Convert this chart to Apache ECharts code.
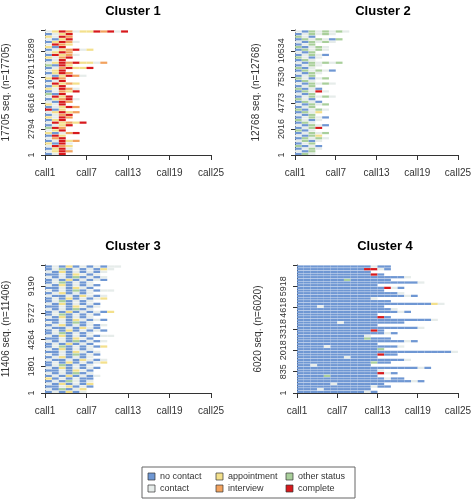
<!DOCTYPE html><html><head><meta charset="utf-8">
<script src="https://cdn.jsdelivr.net/npm/echarts@6/dist/echarts.min.js"></script>
<style>html,body{margin:0;background:#fff}#c{width:474px;height:500px}</style></head><body><div id="c"></div>
<script>
const stateNames=["no contact","contact","appointment","interview","other status","complete"];
const stateCodes=["N","C","A","I","O","X"];
const stateColors=["#6F97D3","#E6ECEA","#F3E08C","#F2A25E","#A9CF9B","#D7191C"];
const titles=["Cluster 1","Cluster 2","Cluster 3","Cluster 4"];
const yNames=["17705 seq. (n=17705)","12768 seq. (n=12768)","11406 seq. (n=11406)","6020 seq. (n=6020)"];
const yTicks=[["1","2794","6616","10781","15289"],["1","2016","4773","7530","10534"],["1","1801","4264","5727","9190"],["1","835","2018","3318","4618","5918"]];
const xTicks=["call1","call7","call13","call19","call25"];
// sequences, bottom row first
const seq1=["NCX","CAXI","NAXC","CXIA","ANXC","NCXAI","CIX","NXA","ANCIX","CAX","OXI","NCAX","CXAIAX","NAX","ACXI","NCIX","CAXAI","XNA","NCAXI","ACX","CNXI","NAIXC","CXAX","ONX","NCIAX","ACXIC","NAX","CXAIA","NCX","AXI","CNAXIC","NAXI","CAX","NCIXAAX","ONXA","CAXIXAACI","NCX","ACIX","NXAIC","CAXI","NCAIXCA","ANX","CXIA","NAXIC","CNAX","ACXI","NCAX","CAXICAAXIXCX"];
const seq2=["NOC","CNO","NCOC","ONCN","NCO","CONC","NOCOC","CNOA","NCOCO","ONC","NCOX","CNOCN","NOC","OCNC","NCOCN","CNO","NOCA","ONCOC","NCO","CNOCO","NOCN","OCN","NCOCOC","CNO","NOCXC","ONCN","NCO","CNOCOC","NOC","OCNCO","NCO","CNOC","NOCOCN","ONC","NCOC","CNOCOCO","NOC","OCNC","NCOCN","CNO","NOCOC","ONCOC","NCO","CNOCOC","NOCOCNO","OCN","NCOCOC","CNOCOCOC"];
const seq3=["NCNANC","CNONCA","NNCANCN","CNANCNA","NCNOCNC","ANCNCNN","NCNANCNC","CNCNONC","NNCNACN","CNANCNCN","NCONCNC","NCNANCNCA","CNNCNACNC","NCANCNC","CNCNONCN","NNCNACNC","CNANCNC","NCONCNCNA","NCNANCN","CNCNONCNC","NNCNACN","CNANCNCNCC","NCONCNC","NCNANCNCN","CNNCNACN","NCANCNCNC","CNCNONC","NNCNACNCN","CNANCNC","NCONCNCN","NCNANCNCNA","CNCNONC","NNCNACNC","CNANCNCN","NCONCNC","NCNANCNCA","CNNCNACNC","NCANCNC","CNCNONCNCC","NNCNACN","CNANCNCN","NCONCNC","NCNANCNCN","CNCNONCNC","NNCNACNC","CNANCNCNC","NCONCNCNAC","NCNANCNCNCC"];
const seq4=["NNNNNNNNNNCN","NNNCNNNNNNN","NNNNNNNNNNNCNN","NNNNNCNNNNNNN","NNNNNNNNNNNNNNNNNCN","NNNNNNNNNNNNNCNN","NNNNONNNNNNN","NNNNNNNNNNNNXCN","NNNNNNNNNNNNC","NNNNNNNNNNNNNNNNNNCN","NNCNNNNNNNN","NNNNNNNNNNNONN","NNNNNNNNNNNNNNNNC","NNNNNNNCNNNN","NNNNNNNNNNNNXNN","NNNNNNNNNNNNNNNNNNNNNNNC","NNNNNNNNNNNNO","NNNNCNNNNNNNNNNC","NNNNNNNNNNNN","NNNNNNNNNNNNNNNNCN","NNNNNNNNNNONNN","NNNNNNNNNNC","NNNNNNNNNNNNNCN","NNNNNNNNNNNXN","NNNNNNNNNNNNNNNNNNC","NNNNNNNNNNNN","NNNNNNCNNNNNNNNN","NNNNNNNNNNNNNNNNNNNNC","NNNNNNNNNNNNXN","NNNNNNNNNNNN","NNNNNNNNNNNNNNNCN","NNNNNNNNNNNNNNC","NNNCNNNNNNNNN","NNNNNNNNNNNNNNNNNNNNAC","NNNNNNNNNNNNNN","NNNNNNNNNNNC","NNNNNNNNNNNNNNNNCN","NNNNNNNNNNNNNNNC","NNNNNNNNNNNNN","NNNNNNNNNNNNNXCN","NNNNNNNNNNNN","NNNNNNNNNNNNNNNNNNC","NNNNNNNONNNNNN","NNNNNNNNNNNNNNNNC","NNNNNNNNNNNXN","NNNNNNNNNNN","NNNNNNNNNNXXCN","NNNNNNNNNNNCNN"];
const seqs=[seq1,seq2,seq3,seq4];
const R=48;
const grids=[{left:45,top:30,width:166,height:125},{left:295,top:30,width:166,height:125},{left:45,top:265,width:166,height:128},{left:297,top:265,width:166,height:128}];
const option={animation:false,grid:grids,title:[],xAxis:[],yAxis:[],series:[],graphic:[]};
seqs.forEach((s,g)=>{
  const gr=grids[g];
  option.title.push({text:titles[g],left:gr.left+gr.width/2,top:g<2?0:235,textAlign:'center',textStyle:{fontSize:13,fontWeight:'bold',color:'#000',fontFamily:'Liberation Sans'}});
  option.xAxis.push({gridIndex:g,type:'value',min:0,max:24,interval:6,offset:5,axisLine:{show:true,lineStyle:{color:'#333'}},axisTick:{show:true,length:5,lineStyle:{color:'#333'}},splitLine:{show:false},axisLabel:{color:'#333',fontSize:10,fontFamily:'Liberation Sans',formatter:v=>xTicks[v/6],margin:8}});
  const tk=yTicks[g];const step=g==3?8:10;
  option.yAxis.push({gridIndex:g,type:'value',min:0,max:R,interval:step,offset:4,name:yNames[g],nameLocation:'middle',nameGap:30,nameTextStyle:{fontSize:10,color:'#333',fontFamily:'Liberation Sans'},axisLine:{show:true,lineStyle:{color:'#333'}},axisTick:{show:true,length:4,lineStyle:{color:'#333'}},splitLine:{show:false},axisLabel:{rotate:90,fontSize:9,color:'#333',fontFamily:'Liberation Sans',hideOverlap:false,formatter:v=>{const i=Math.round(v/step);return i<tk.length?tk[i]:'';},margin:5}});
  const data=[];
  s.forEach((str,r)=>{for(let k=0;k<str.length;k++)data.push([k,r,stateCodes.indexOf(str[k])]);});
  option.series.push({type:'custom',xAxisIndex:g,yAxisIndex:g,data,encode:{x:0,y:1},renderItem:(p,api)=>{
    const k=api.value(0),r=api.value(1),st=api.value(2);
    const a=api.coord([k,r+0.85]),b=api.coord([k+1,r]);
    return {type:'rect',shape:{x:a[0],y:a[1],width:b[0]-a[0],height:b[1]-a[1]},style:{fill:stateColors[st]}};
  }});
});
// legend
const lx=142,ly=467;
option.graphic.push({type:'rect',shape:{x:lx,y:ly,width:213,height:31},style:{fill:'#fff',stroke:'#666',lineWidth:1}});
const colX=[lx+6,lx+74,lx+144];
const order=[[0,2,4],[1,3,5]];
order.forEach((row,ri)=>row.forEach((si,ci)=>{
  const y=ly+6+ri*12;
  option.graphic.push({type:'rect',shape:{x:colX[ci],y:y,width:7,height:7},style:{fill:stateColors[si],stroke:'#333',lineWidth:0.7}});
  option.graphic.push({type:'text',x:colX[ci]+12,y:y-1,style:{text:stateNames[si],fontSize:9,fill:'#333',fontFamily:'Liberation Sans'}});
}));
echarts.init(document.getElementById('c')).setOption(option);
</script></body></html>
